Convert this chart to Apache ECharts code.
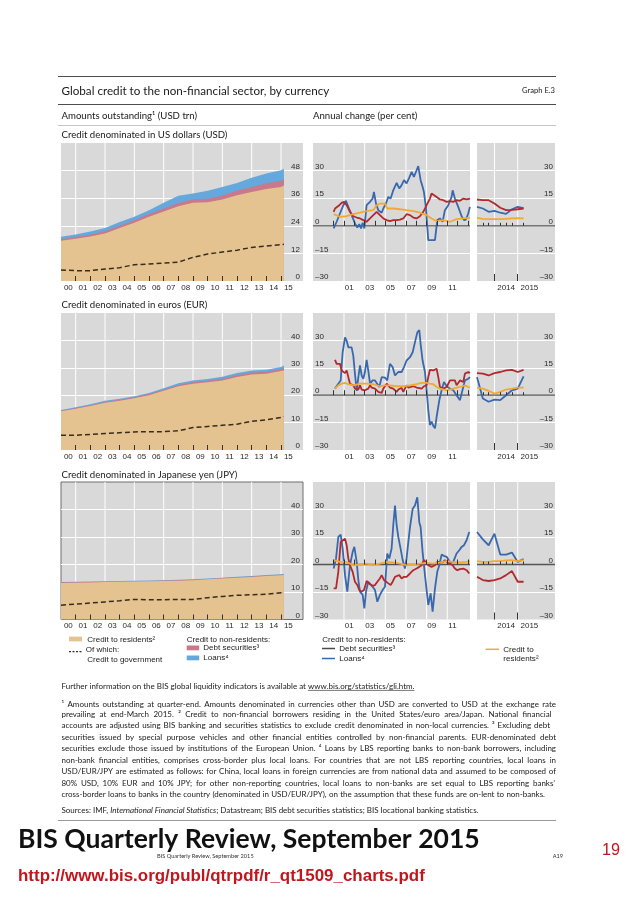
<!DOCTYPE html>
<html>
<head>
<meta charset="utf-8">
<title>Global credit to the non-financial sector, by currency</title>
<script src="https://cdn.jsdelivr.net/npm/echarts@6.0.0/dist/echarts.min.js"></script>
<style>
html, body { margin:0; padding:0; background:#ffffff; }
#chart { width:638px; height:903px; }
</style>
</head>
<body>
<div id="chart"></div>
<script>
// ================= DATA =================
// Amounts outstanding (USD trn), left panels
const leftDates = [2000, 2001, 2002, 2003, 2004, 2005, 2006, 2007, 2008, 2009, 2010, 2011, 2012, 2013, 2014, 2015, 2015.2];
const usdResidents = [17.5, 18.4, 19.4, 20.7, 23.0, 25.3, 27.9, 30.2, 32.5, 34.0, 34.2, 35.4, 37.3, 38.7, 40.0, 40.9, 41.5];
const usdDebtSec   = [0.6, 0.7, 0.8, 0.9, 1.0, 1.1, 1.2, 1.3, 1.4, 1.5, 1.6, 1.8, 2.0, 2.2, 2.5, 2.7, 2.8];
const usdLoans     = [1.1, 1.1, 1.3, 1.4, 1.6, 1.5, 1.7, 2.5, 3.2, 2.5, 3.4, 3.7, 3.3, 4.0, 4.2, 4.5, 4.5];
const usdGovt      = [4.8, 4.5, 4.5, 5.2, 5.8, 7.1, 7.4, 7.8, 8.2, 10.3, 11.7, 12.6, 13.4, 14.6, 15.2, 15.8, 16.0];

const eurResidents = [14.1, 15.1, 16.1, 17.2, 18.0, 18.9, 20.0, 21.6, 23.3, 24.2, 24.7, 25.4, 26.6, 27.6, 27.8, 28.8, 29.0];
const eurDebtSec   = [0.2, 0.2, 0.25, 0.3, 0.3, 0.35, 0.4, 0.4, 0.45, 0.5, 0.55, 0.6, 0.65, 0.7, 0.75, 0.8, 0.85];
const eurLoans     = [0.3, 0.3, 0.35, 0.5, 0.4, 0.4, 0.4, 0.5, 0.6, 0.7, 0.65, 0.7, 0.85, 0.7, 0.75, 0.7, 0.95];
const eurGovt      = [5.4, 5.4, 5.7, 6.0, 6.3, 6.6, 6.7, 6.7, 7.0, 8.2, 8.6, 9.0, 9.4, 10.5, 11.0, 11.9, 12.2];

const jpyResidents = [13.3, 13.4, 13.5, 13.6, 13.7, 13.8, 13.9, 14.0, 14.1, 14.3, 14.6, 14.9, 15.2, 15.5, 15.8, 16.1, 16.2];
const jpyDebtSec   = [0.12, 0.12, 0.13, 0.13, 0.13, 0.14, 0.14, 0.15, 0.15, 0.14, 0.14, 0.15, 0.15, 0.16, 0.16, 0.17, 0.17];
const jpyLoans     = [0.18, 0.18, 0.17, 0.17, 0.17, 0.17, 0.17, 0.16, 0.16, 0.16, 0.17, 0.17, 0.17, 0.18, 0.18, 0.18, 0.18];
const jpyGovt      = [5.2, 5.6, 6.0, 6.4, 6.8, 7.3, 7.2, 7.2, 7.3, 7.3, 7.9, 8.4, 8.8, 9.0, 9.2, 9.7, 9.7];

// Annual change (per cent), right panels, 2000-2013
const usdLoansDates = [2000.0, 2000.29, 2000.61, 2000.94, 2001.19, 2001.42, 2001.74, 2002.06, 2002.29, 2002.48, 2002.65, 2002.81, 2002.97, 2003.19, 2003.52, 2003.77, 2003.90, 2004.10, 2004.32, 2004.65, 2004.81, 2005.06, 2005.29, 2005.52, 2005.77, 2006.10, 2006.35, 2006.58, 2006.81, 2007.06, 2007.32, 2007.55, 2007.77, 2008.03, 2008.19, 2008.42, 2008.61, 2008.74, 2008.94, 2009.16, 2009.81, 2010.03, 2010.29, 2010.55, 2010.77, 2011.10, 2011.42, 2011.52, 2011.74, 2012.06, 2012.39, 2012.61, 2012.81, 2013.03, 2013.19];
const usdLoansGrowth = [-1.4, 2.2, 6.7, 11.2, 13.6, 10.3, 5.8, 1.3, -0.9, 0.9, -1.4, 1.6, -1.4, 11.2, 13.0, 14.8, 18.4, 12.1, 8.5, 7.1, 9.4, 12.1, 15.7, 14.8, 19.3, 23.3, 20.3, 22.1, 24.8, 23.0, 26.2, 29.3, 26.6, 30.2, 32.4, 24.8, 21.2, 18.4, 9.4, -7.8, -7.8, 3.1, 4.0, 2.2, 8.5, 11.2, 15.7, 19.3, 14.8, 10.3, 5.2, 3.1, 3.4, 6.7, 10.3];
const usdDebtDates = [2000.0, 2000.13, 2000.29, 2000.55, 2000.77, 2001.0, 2001.26, 2001.58, 2001.90, 2002.23, 2002.55, 2002.87, 2003.19, 2003.52, 2003.84, 2004.16, 2004.48, 2004.81, 2005.13, 2005.45, 2005.77, 2006.10, 2006.42, 2006.74, 2007.06, 2007.39, 2007.71, 2008.03, 2008.35, 2008.68, 2009.0, 2009.32, 2009.48, 2009.65, 2009.97, 2010.29, 2010.61, 2010.94, 2011.26, 2011.58, 2011.90, 2012.23, 2012.55, 2012.87, 2013.03, 2013.19];
const usdDebtGrowth = [7.6, 9.4, 8.5, 11.2, 12.5, 13.0, 11.2, 7.6, 5.2, 4.5, 4.0, 3.1, 2.2, 4.0, 5.8, 7.6, 5.8, 4.0, 3.1, 2.5, 3.1, 3.1, 3.4, 4.0, 6.3, 5.8, 4.5, 4.0, 5.2, 7.6, 11.2, 14.8, 17.5, 17.9, 15.7, 14.3, 13.9, 13.0, 13.4, 13.0, 13.9, 13.6, 14.8, 14.3, 14.8, 14.8];
const usdResDates = [2000.0, 2000.61, 2001.26, 2001.90, 2002.55, 2003.19, 2003.84, 2004.16, 2004.48, 2004.97, 2005.19, 2005.77, 2006.42, 2007.06, 2007.71, 2008.35, 2009.0, 2009.48, 2009.97, 2010.61, 2011.26, 2011.90, 2012.55, 2013.19];
const usdResGrowth = [6.3, 4.9, 5.2, 6.3, 7.1, 8.0, 8.5, 11.2, 12.1, 12.1, 9.4, 9.4, 9.0, 8.5, 8.0, 7.1, 5.8, 4.0, 2.5, 3.1, 2.2, 3.6, 4.0, 4.3];

const eurLoansDates = [2000.13, 2000.45, 2000.68, 2000.87, 2001.10, 2001.26, 2001.42, 2001.58, 2001.74, 2001.90, 2002.06, 2002.23, 2002.39, 2002.55, 2002.71, 2002.87, 2003.03, 2003.19, 2003.35, 2003.52, 2003.77, 2004.0, 2004.16, 2004.42, 2004.65, 2004.97, 2005.19, 2005.45, 2005.71, 2005.94, 2006.26, 2006.58, 2006.81, 2007.06, 2007.39, 2007.65, 2007.87, 2008.10, 2008.29, 2008.42, 2008.61, 2008.84, 2009.0, 2009.16, 2009.32, 2009.48, 2009.65, 2009.81, 2009.97, 2010.23, 2010.45, 2010.68, 2010.94, 2011.26, 2011.58, 2011.90, 2012.23, 2012.39, 2012.55, 2012.71, 2012.87, 2013.03, 2013.19];
const eurLoansGrowth = [3.6, 6.3, 8.1, 23.5, 31.6, 29.8, 26.2, 27.1, 26.2, 21.7, 11.8, 2.4, 9.9, 16.3, 10.8, 9.0, 12.7, 19.3, 13.6, 6.3, 8.1, 8.1, 9.0, 4.5, 9.9, 9.6, 8.1, 17.2, 15.4, 10.8, 12.7, 12.7, 15.4, 19.0, 20.8, 23.5, 28.9, 34.4, 35.6, 28.0, 19.0, 12.7, 2.7, -8.1, -16.3, -14.5, -16.8, -18.1, -11.8, -2.7, 2.7, 7.2, 4.9, 3.6, 2.7, 0.0, -2.7, -3.6, 4.5, 8.1, 7.2, 9.0, 9.9];
const eurDebtDates = [2000.13, 2000.29, 2000.45, 2000.61, 2000.77, 2000.94, 2001.10, 2001.26, 2001.42, 2001.58, 2001.90, 2002.06, 2002.23, 2002.39, 2002.55, 2002.71, 2003.03, 2003.35, 2003.52, 2003.68, 2004.0, 2004.32, 2004.65, 2004.81, 2005.13, 2005.45, 2005.77, 2006.10, 2006.26, 2006.58, 2006.74, 2007.06, 2007.23, 2007.39, 2007.71, 2008.03, 2008.52, 2008.74, 2009.0, 2009.16, 2009.32, 2009.65, 2009.81, 2009.97, 2010.13, 2010.29, 2010.61, 2010.94, 2011.26, 2011.74, 2011.90, 2012.23, 2012.55, 2012.71, 2012.87, 2013.03, 2013.19];
const eurDebtGrowth = [19.3, 17.2, 16.8, 17.2, 13.6, 12.7, 12.1, 13.6, 9.9, 6.3, 5.4, 3.6, 4.5, 3.1, 5.4, 3.1, 2.7, 3.6, 5.4, 4.2, 3.6, 1.8, 1.3, 3.6, 6.3, 4.2, 3.6, 1.8, 3.1, 4.0, 1.8, 5.4, 4.2, 4.9, 4.9, 4.2, 3.6, 4.9, 5.4, 9.9, 13.9, 13.6, 12.7, 14.5, 9.9, 4.5, 3.6, 4.5, 8.1, 8.1, 5.4, 8.1, 7.2, 11.8, 10.8, 12.7, 12.1];
const eurResDates = [2000.13, 2000.45, 2000.77, 2001.10, 2001.42, 2001.90, 2002.55, 2003.19, 2003.84, 2004.48, 2004.97, 2005.45, 2006.10, 2006.74, 2007.39, 2008.03, 2008.52, 2009.0, 2009.32, 2009.65, 2009.97, 2010.29, 2010.94, 2011.58, 2012.23, 2012.71, 2013.03, 2013.19];
const eurResGrowth = [3.6, 5.4, 6.3, 6.7, 6.0, 5.4, 6.3, 6.3, 6.0, 4.9, 5.4, 5.4, 4.9, 4.9, 5.4, 6.0, 6.7, 6.7, 6.3, 6.0, 4.5, 3.6, 2.7, 3.6, 4.5, 5.4, 4.5, 4.2];

const jpyLoansDates = [2000.0, 2000.23, 2000.45, 2000.68, 2000.87, 2001.10, 2001.32, 2001.58, 2001.84, 2002.0, 2002.23, 2002.39, 2002.55, 2002.81, 2002.97, 2003.13, 2003.35, 2003.52, 2003.77, 2004.0, 2004.23, 2004.48, 2004.74, 2004.97, 2005.19, 2005.39, 2005.61, 2005.77, 2005.94, 2006.10, 2006.26, 2006.48, 2006.68, 2006.90, 2007.06, 2007.23, 2007.39, 2007.65, 2007.87, 2008.10, 2008.29, 2008.42, 2008.61, 2008.84, 2009.16, 2009.39, 2009.58, 2009.81, 2010.03, 2010.23, 2010.45, 2010.68, 2010.94, 2011.26, 2011.58, 2011.90, 2012.16, 2012.39, 2012.61, 2012.87, 2013.13];
const jpyLoansGrowth = [-2.2, 3.3, 15.0, 16.3, 8.7, -5.8, -14.8, -0.4, 6.9, 9.6, 1.4, -8.5, -14.8, -16.6, -23.9, -14.8, -9.4, -8.5, -12.1, -13.9, -20.3, -16.6, -13.9, -12.1, 6.0, 3.3, 8.7, 21.3, 32.2, 21.3, 15.0, 8.7, 2.4, -2.2, 3.3, 12.3, 20.4, 30.4, 32.2, 36.7, 23.1, 20.4, 6.9, -5.8, -22.1, -15.7, -25.7, -13.0, -4.0, -0.4, 5.4, 4.7, 4.2, 1.4, 1.4, 6.0, 7.8, 9.6, 10.5, 13.2, 17.7];
const jpyDebtDates = [2000.0, 2000.23, 2000.45, 2000.68, 2000.87, 2001.10, 2001.26, 2001.42, 2001.58, 2001.84, 2002.06, 2002.29, 2002.48, 2002.71, 2002.94, 2003.19, 2003.35, 2003.52, 2003.77, 2004.0, 2004.23, 2004.48, 2004.65, 2004.87, 2005.06, 2005.29, 2005.52, 2005.71, 2005.94, 2006.10, 2006.35, 2006.58, 2006.81, 2007.06, 2007.39, 2007.71, 2008.03, 2008.29, 2008.52, 2008.74, 2008.94, 2009.16, 2009.48, 2009.81, 2010.03, 2010.29, 2010.55, 2010.77, 2011.0, 2011.26, 2011.52, 2011.74, 2011.97, 2012.23, 2012.55, 2012.87, 2013.13];
const jpyDebtGrowth = [-13.0, -13.0, -4.0, 12.3, 13.2, 14.1, 10.5, 3.3, -0.4, -4.0, -9.4, -11.2, -13.9, -14.8, -13.9, -9.0, -9.4, -10.8, -11.6, -11.2, -9.4, -7.6, -5.8, -8.5, -7.6, -10.3, -11.2, -9.4, -6.7, -7.6, -5.8, -7.6, -6.7, -6.7, -4.9, -3.1, -2.2, -1.3, -0.4, 2.4, 1.1, -0.4, -1.3, -0.4, 1.4, 1.4, 1.1, 2.4, 1.1, 0.5, -0.4, -2.2, -3.1, -2.5, -2.2, -3.1, -4.9];
const jpyResDates = [2000.0, 2000.61, 2001.26, 2001.90, 2002.55, 2003.19, 2003.84, 2004.48, 2005.13, 2005.77, 2006.42, 2007.06, 2007.71, 2008.35, 2009.0, 2009.65, 2010.29, 2010.94, 2011.58, 2012.23, 2012.87, 2013.19];
const jpyResGrowth = [2.4, 1.4, 1.4, -0.4, 0.0, 0.5, -0.4, 0.5, 1.4, 1.1, 0.5, -0.4, 0.0, 0.5, 0.9, 0.5, 1.1, 1.8, 1.4, 1.1, 1.4, 1.8];

// Annual change (per cent), right insets, quarterly 2013-2015
const insetDates = [2013.25, 2013.5, 2013.75, 2014.0, 2014.25, 2014.5, 2014.75, 2015.0, 2015.25];
const usdLoansInset = [10.3, 9.4, 7.6, 8.1, 7.1, 6.5, 9.0, 10.3, 9.6];
const usdDebtInset  = [14.3, 13.9, 13.9, 12.1, 9.8, 8.5, 8.7, 9.0, 9.4];
const usdResInset   = [4.3, 3.8, 3.6, 3.6, 3.6, 3.8, 4.0, 4.2, 4.0];
const eurLoansInset = [9.9, -1.8, -3.6, -2.4, -2.7, 0.0, 2.7, 3.6, 10.3];
const eurDebtInset  = [12.1, 11.8, 10.8, 12.1, 12.7, 13.6, 13.9, 12.7, 13.9];
const eurResInset   = [4.2, 3.6, 2.4, 0.9, 1.8, 3.1, 3.6, 4.2, 4.2];
const jpyLoansInset = [17.7, 13.7, 10.5, 16.8, 5.4, 5.4, 6.5, 1.4, 2.9];
const jpyDebtInset  = [-6.7, -8.5, -9.0, -8.5, -7.6, -5.8, -3.6, -9.4, -9.4];
const jpyResInset   = [1.8, 1.4, 1.4, 1.8, 1.8, 2.2, 2.4, 1.8, 2.4];

// Axis ticks and labels
const leftTickYears = [2001, 2002, 2003, 2004, 2005, 2006, 2007, 2008, 2009, 2010, 2011, 2012, 2013, 2014, 2015];
const leftLabelYears = [2000.5, 2001.5, 2002.5, 2003.5, 2004.5, 2005.5, 2006.5, 2007.5, 2008.5, 2009.5, 2010.5, 2011.5, 2012.5, 2013.5, 2014.5, 2015.5];
const leftGridYears = [2001, 2003, 2005, 2007, 2009, 2011, 2013, 2015];
const leftAxisMax = [60, 50, 50];
const leftAxisStep = [12, 10, 10];
const mainTickYears = [2000, 2001, 2002, 2003, 2004, 2005, 2006, 2007, 2008, 2009, 2010, 2011, 2012, 2013];
const mainLabelYears = [2001.5, 2003.5, 2005.5, 2007.5, 2009.5, 2011.5];
const mainGridYears = [2001, 2003, 2005, 2007, 2009, 2011];
const insetMinorTicks = [2013.5, 2013.75, 2014.25, 2014.5, 2014.75, 2015.25];
const insetMajorTicks = [2014, 2015];
const insetLabelYears = [2014.5, 2015.5];
const insetGridYears = [2014, 2015];
const changeMin = -30, changeMax = 45, changeStep = 15;
const leftRange = [2000, 2016.5], mainRange = [1998, 2013.2], insetRange = [2013.25, 2016.6];

// ================= STYLE =================
const BG = '#d9d9d9';
const TAN = '#e4c391';
const PINK = '#c8798b';
const LBLUE = '#64a9de';
const LINE_BLUE = '#3968ae';
const LINE_RED = '#b3282d';
const LINE_ORANGE = '#f2a934';
const GOV = '#3a2b1d';
const TXT = 'Lato';
const SANS = '"Liberation Sans"';
const AXFS = 8;

const ctx = document.createElement('canvas').getContext('2d');
function measure(text, size, family, weight, style) {
  ctx.font = (style || 'normal') + ' ' + (weight || 'normal') + ' ' + size + 'px ' + family;
  return ctx.measureText(text).width;
}
function fitSize(text, width, family, weight, style) {
  return 100 * width / measure(text, 100, family, weight, style);
}
function pairs(xs, ys) {
  const n = Math.min(xs.length, ys.length);
  const out = [];
  for (let i = 0; i < n; i++) out.push([xs[i], ys[i]]);
  return out;
}
function yy(v) { return String(Math.floor(v) % 100).padStart(2, '0'); }
function signed(v) { return v >= changeMax ? '' : (v < 0 ? '\u2013' + (-v) : String(v)); }

const chart = echarts.init(document.getElementById('chart'), null, {width: 638, height: 903, renderer: 'canvas'});

const grids = [], xAxes = [], yAxes = [], series = [];
function addGrid(g) {
  grids.push(Object.assign({show: true, backgroundColor: BG, borderWidth: 0, containLabel: false, outerBoundsMode: 'none'}, g));
  return grids.length - 1;
}
const axLabel = {fontSize: AXFS, fontFamily: SANS, color: '#2a2a2a'};
const noSplit = {show: false, lineStyle: {opacity: 0}};

const panelTop = [143, 313, 482];
const panelH = [138, 137, 137.5];
const leftData = [
  [usdResidents, usdDebtSec, usdLoans, usdGovt],
  [eurResidents, eurDebtSec, eurLoans, eurGovt],
  [jpyResidents, jpyDebtSec, jpyLoans, jpyGovt]
];
const mainData = [
  [[usdLoansDates, usdLoansGrowth], [usdDebtDates, usdDebtGrowth], [usdResDates, usdResGrowth]],
  [[eurLoansDates, eurLoansGrowth], [eurDebtDates, eurDebtGrowth], [eurResDates, eurResGrowth]],
  [[jpyLoansDates, jpyLoansGrowth], [jpyDebtDates, jpyDebtGrowth], [jpyResDates, jpyResGrowth]]
];
const insetData = [
  [usdLoansInset, usdDebtInset, usdResInset],
  [eurLoansInset, eurDebtInset, eurResInset],
  [jpyLoansInset, jpyDebtInset, jpyResInset]
];

// white vertical grid lines (and dark zero line) as plain series, drawn under the data
function vLine(xi, yi, x, y0, y1) {
  series.push({type: 'line', xAxisIndex: xi, yAxisIndex: yi, data: [[x, y0], [x, y1]], symbol: 'none', z: 1,
    silent: true, lineStyle: {color: '#ffffff', width: 1}});
}
function zeroLine(xi, yi, xRange) {
  series.push({type: 'line', xAxisIndex: xi, yAxisIndex: yi, data: [[xRange[0], 0], [xRange[1], 0]], symbol: 'none', z: 1.5,
    silent: true, lineStyle: {color: '#555555', width: 1.3}});
}
function changeLine(xi, yi, data, color) {
  series.push({type: 'line', xAxisIndex: xi, yAxisIndex: yi, data: data, symbol: 'none', z: 3,
    lineStyle: {color: color, width: 1.8}, silent: true});
}
function changeYAxis(gi, pos) {
  return yAxes.push({gridIndex: gi, type: 'value', position: pos, min: changeMin, max: changeMax, interval: changeStep,
    axisLine: {show: false}, axisTick: {show: false},
    axisLabel: Object.assign({inside: true, margin: 2, align: pos === 'left' ? 'left' : 'right', verticalAlign: 'bottom', formatter: signed}, axLabel),
    splitLine: {show: true, showMinLine: false, showMaxLine: false, lineStyle: {color: '#ffffff', width: 1}}
  }) - 1;
}

for (let p = 0; p < 3; p++) {
  const T = panelTop[p], H = panelH[p];
  // ---- left: amounts outstanding ----
  const gl = addGrid({left: 61, top: T, width: 242, height: H,
    borderWidth: p === 2 ? 1 : 0, borderColor: '#6e6e6e'});
  const xl = xAxes.push({gridIndex: gl, type: 'value', min: leftRange[0], max: leftRange[1], z: 10,
    axisLine: {show: false}, splitLine: noSplit, minorSplitLine: {show: false}, splitArea: {show: false},
    axisTick: {show: true, inside: true, length: 5, customValues: leftTickYears, lineStyle: {color: '#333333', width: 1}},
    axisLabel: Object.assign({show: true, customValues: leftLabelYears, margin: 2.5, formatter: yy}, axLabel)
  }) - 1;
  const mx = leftAxisMax[p];
  const yl = yAxes.push({gridIndex: gl, type: 'value', position: 'right', min: 0, max: mx, interval: leftAxisStep[p],
    axisLine: {show: false}, axisTick: {show: false},
    axisLabel: Object.assign({inside: true, margin: 3, align: 'right', verticalAlign: 'bottom',
      formatter: v => (v >= mx ? '' : String(v))}, axLabel),
    splitLine: {show: true, showMinLine: false, showMaxLine: false, lineStyle: {color: '#ffffff', width: 1}}
  }) - 1;
  const [res, debt, loans, gov] = leftData[p];
  const resDebt = res.map((r, i) => r + debt[i]);
  const total = res.map((r, i) => r + debt[i] + loans[i]);
  // vertical gridlines only show above the stacked area
  leftGridYears.forEach(v => {
    const k = leftDates.indexOf(v);
    vLine(xl, yl, v, k >= 0 ? total[k] : 0, mx);
  });
  [[total, LBLUE], [resDebt, PINK], [res, TAN]].forEach(([vals, col]) => {
    series.push({type: 'line', xAxisIndex: xl, yAxisIndex: yl, data: pairs(leftDates, vals), symbol: 'none', z: 2,
      silent: true, lineStyle: {width: 0}, areaStyle: {color: col, opacity: 1}});
  });
  series.push({type: 'line', xAxisIndex: xl, yAxisIndex: yl, data: pairs(leftDates, gov), symbol: 'none', z: 3,
    silent: true, lineStyle: {color: GOV, width: 1.5, type: [5, 3]}});

  // ---- right main: annual change 2000-2013 ----
  const gm = addGrid({left: 313, top: T, width: 157, height: H});
  const xm = xAxes.push({gridIndex: gm, type: 'value', min: mainRange[0], max: mainRange[1], z: 10,
    axisLine: {show: false}, splitLine: noSplit, minorSplitLine: {show: false}, splitArea: {show: false},
    axisTick: {show: true, inside: true, length: 5, customValues: mainTickYears, lineStyle: {color: '#333333', width: 1}},
    axisLabel: Object.assign({show: true, customValues: mainLabelYears, margin: 2.5, formatter: yy}, axLabel)
  }) - 1;
  const ym = changeYAxis(gm, 'left');
  mainGridYears.forEach(v => vLine(xm, ym, v, changeMin, changeMax));
  zeroLine(xm, ym, mainRange);
  const md = mainData[p];
  changeLine(xm, ym, pairs(md[0][0], md[0][1]), LINE_BLUE);
  changeLine(xm, ym, pairs(md[1][0], md[1][1]), LINE_RED);
  changeLine(xm, ym, pairs(md[2][0], md[2][1]), LINE_ORANGE);

  // ---- right inset: quarterly 2013-2015 ----
  const gs = addGrid({left: 477, top: T, width: 78, height: H});
  const xs = xAxes.push({gridIndex: gs, type: 'value', position: 'bottom', min: insetRange[0], max: insetRange[1], z: 10,
    axisLine: {show: false}, splitLine: noSplit, minorSplitLine: {show: false}, splitArea: {show: false},
    axisTick: {show: true, inside: true, length: 3, customValues: insetMinorTicks, lineStyle: {color: '#333333', width: 1}},
    axisLabel: Object.assign({show: true, customValues: insetLabelYears, margin: 2.5, formatter: v => String(Math.floor(v))}, axLabel)
  }) - 1;
  xAxes.push({gridIndex: gs, type: 'value', position: 'bottom', min: insetRange[0], max: insetRange[1], z: 10,
    axisLine: {show: false}, splitLine: noSplit, axisLabel: {show: false},
    axisTick: {show: true, inside: true, length: 7, customValues: insetMajorTicks, lineStyle: {color: '#333333', width: 1}}
  });
  const ys = changeYAxis(gs, 'right');
  insetGridYears.forEach(v => vLine(xs, ys, v, changeMin, changeMax));
  zeroLine(xs, ys, insetRange);
  const idt = insetData[p];
  changeLine(xs, ys, pairs(insetDates, idt[0]), LINE_BLUE);
  changeLine(xs, ys, pairs(insetDates, idt[1]), LINE_RED);
  changeLine(xs, ys, pairs(insetDates, idt[2]), LINE_ORANGE);
}

// ================= TEXT & DECORATION =================
const G = [];
function txt(x, y, text, o) {
  G.push({type: 'text', x: x, y: y, z: 100, silent: true,
    style: Object.assign({text: text, fill: '#1a1a1a', fontFamily: TXT, fontSize: 10, align: 'left', verticalAlign: 'middle'}, o || {})});
}
function hline(x1, x2, y, stroke, w, dash) {
  G.push({type: 'line', z: 100, silent: true, shape: {x1: x1, y1: y, x2: x2, y2: y},
    style: {stroke: stroke, lineWidth: w, lineDash: dash || null}});
}
function box(x, y, w, h, fill) {
  G.push({type: 'rect', z: 100, silent: true, shape: {x: x, y: y, width: w, height: h}, style: {fill: fill}});
}

const titleFS = fitSize('Global credit to the non-financial sector, by currency', 268, TXT);
const graphFS = fitSize('Graph E.3', 33, TXT);
const secFS = fitSize('Credit denominated in euros (EUR)', 146, TXT);
const noteFS = fitSize('Further information on the BIS global liquidity indicators is available at ', 247, TXT);
const bigFS = fitSize('BIS Quarterly Review, September 2015', 462, TXT, 'bold');
const urlFS = fitSize('http://www.bis.org/publ/qtrpdf/r_qt1509_charts.pdf', 407, SANS, 'bold');
const smallFS = fitSize('BIS Quarterly Review, September 2015', 97, TXT);
const legFS = fitSize('Credit to residents\u00b2', 68, SANS);
const pageFS = fitSize('19', 18, SANS);

// header
hline(58, 556, 76.5, '#4d4d4d', 1.2);
txt(61.5, 91, 'Global credit to the non-financial sector, by currency', {fontSize: titleFS});
txt(555, 91, 'Graph E.3', {fontSize: graphFS, align: 'right'});
hline(58, 556, 104.5, '#4d4d4d', 1);
txt(61.5, 116, 'Amounts outstanding\u00b9 (USD trn)', {fontSize: secFS});
txt(313, 116, 'Annual change (per cent)', {fontSize: secFS});
hline(58, 556, 125.5, '#b8b8b8', 0.8);
txt(61.5, 134.5, 'Credit denominated in US dollars (USD)', {fontSize: secFS});
txt(61.5, 305, 'Credit denominated in euros (EUR)', {fontSize: secFS});
txt(61.5, 474.5, 'Credit denominated in Japanese yen (JPY)', {fontSize: secFS});

// legend
const leg = {fontSize: legFS, fontFamily: SANS, fill: '#222222'};
box(69, 636.6, 13, 4.8, TAN);
txt(87.3, 639.3, 'Credit to residents\u00b2', leg);
hline(69, 82, 651.7, GOV, 1.2, [2, 1.5]);
txt(85.7, 649.3, 'Of which:', leg);
txt(87.3, 659.3, 'Credit to government', leg);
txt(186.7, 639.3, 'Credit to non-residents:', leg);
box(186.7, 645.5, 12.5, 4.8, PINK);
txt(203.3, 647.7, 'Debt securities\u00b3', leg);
box(186.7, 655.5, 12.5, 4.8, LBLUE);
txt(203.3, 657.7, 'Loans\u2074', leg);
txt(322.3, 639.3, 'Credit to non-residents:', leg);
hline(322, 335, 648.5, '#4a4a4a', 1.5);
txt(339.3, 648.3, 'Debt securities\u00b3', leg);
hline(322, 335, 658.5, LINE_BLUE, 1.5);
txt(339.3, 658.3, 'Loans\u2074', leg);
hline(485.7, 499, 649.3, LINE_ORANGE, 1.5);
txt(503.3, 649.3, 'Credit to', leg);
txt(503.3, 658.5, 'residents\u00b2', leg);

// further information line
const furtherPre = 'Further information on the BIS global liquidity indicators is available at ';
const furtherUrl = 'www.bis.org/statistics/gli.htm.';
txt(61.5, 686, furtherPre, {fontSize: noteFS});
const urlX = 61.5 + measure(furtherPre, noteFS, TXT);
txt(urlX, 686, furtherUrl, {fontSize: noteFS});
hline(urlX, urlX + measure(furtherUrl, noteFS, TXT), 686 + noteFS * 0.55, '#1a1a1a', 0.6);

// footnotes (justified lines)
const noteLines = [
  '\u00b9 Amounts outstanding at quarter-end. Amounts denominated in currencies other than USD are converted to USD at the exchange rate',
  'prevailing at end-March 2015. \u00b2 Credit to non-financial borrowers residing in the United States/euro area/Japan. National financial',
  'accounts are adjusted using BIS banking and securities statistics to exclude credit denominated in non-local currencies. \u00b3 Excluding debt',
  'securities issued by special purpose vehicles and other financial entities controlled by non-financial parents. EUR-denominated debt',
  'securities exclude those issued by institutions of the European Union. \u2074 Loans by LBS reporting banks to non-bank borrowers, including',
  'non-bank financial entities, comprises cross-border plus local loans. For countries that are not LBS reporting countries, local loans in',
  'USD/EUR/JPY are estimated as follows: for China, local loans in foreign currencies are from national data and assumed to be composed of',
  '80% USD, 10% EUR and 10% JPY; for other non-reporting countries, local loans to non-banks are set equal to LBS reporting banks\u2019',
  'cross-border loans to banks in the country (denominated in USD/EUR/JPY), on the assumption that these funds are on-lent to non-banks.'
];
const noteEnds = [556, 551.5, 550, 556, 556, 556, 556, 555, 545];
const noteYs = [704, 714, 725.5, 737, 748.5, 760, 771.5, 783, 794.5];
noteLines.forEach((line, k) => {
  const words = line.split(' ');
  const widths = words.map(w => measure(w, noteFS, TXT));
  const sum = widths.reduce((a, b) => a + b, 0);
  const x0 = 61.5;
  let gap = (noteEnds[k] - x0 - sum) / (words.length - 1);
  const sp = measure(' ', noteFS, TXT);
  if (gap < sp * 0.5) gap = sp;
  let x = x0;
  words.forEach((w, i) => {
    txt(x, noteYs[k], w, {fontSize: noteFS});
    x += widths[i] + gap;
  });
});

// sources
txt(61.5, 810.5, '{a|Sources: IMF, }{i|International Financial Statistics}{a|; Datastream; BIS debt securities statistics; BIS locational banking statistics.}', {
  fontSize: noteFS,
  rich: {
    a: {fontSize: noteFS, fontFamily: TXT, fill: '#1a1a1a'},
    i: {fontSize: noteFS, fontFamily: TXT, fontStyle: 'italic', fill: '#1a1a1a'}
  }
});

// page footer
hline(58, 556, 820.5, '#9a9a9a', 1.2);
txt(18, 839.5, 'BIS Quarterly Review, September 2015', {fontSize: bigFS, fontWeight: 'bold', fill: '#111111'});
txt(157, 856.5, 'BIS Quarterly Review, September 2015', {fontSize: smallFS, fill: '#333333'});
txt(563, 856.5, 'A19', {fontSize: smallFS, fill: '#333333', align: 'right'});
txt(18, 876.5, 'http://www.bis.org/publ/qtrpdf/r_qt1509_charts.pdf', {fontSize: urlFS, fontFamily: SANS, fontWeight: 'bold', fill: '#c0161c'});
txt(602, 851, '19', {fontSize: pageFS, fontFamily: SANS, fill: '#c0161c'});

chart.setOption({
  animation: false,
  backgroundColor: '#ffffff',
  textStyle: {fontFamily: SANS},
  grid: grids,
  xAxis: xAxes,
  yAxis: yAxes,
  series: series,
  graphic: {elements: G}
});
</script>
</body>
</html>
